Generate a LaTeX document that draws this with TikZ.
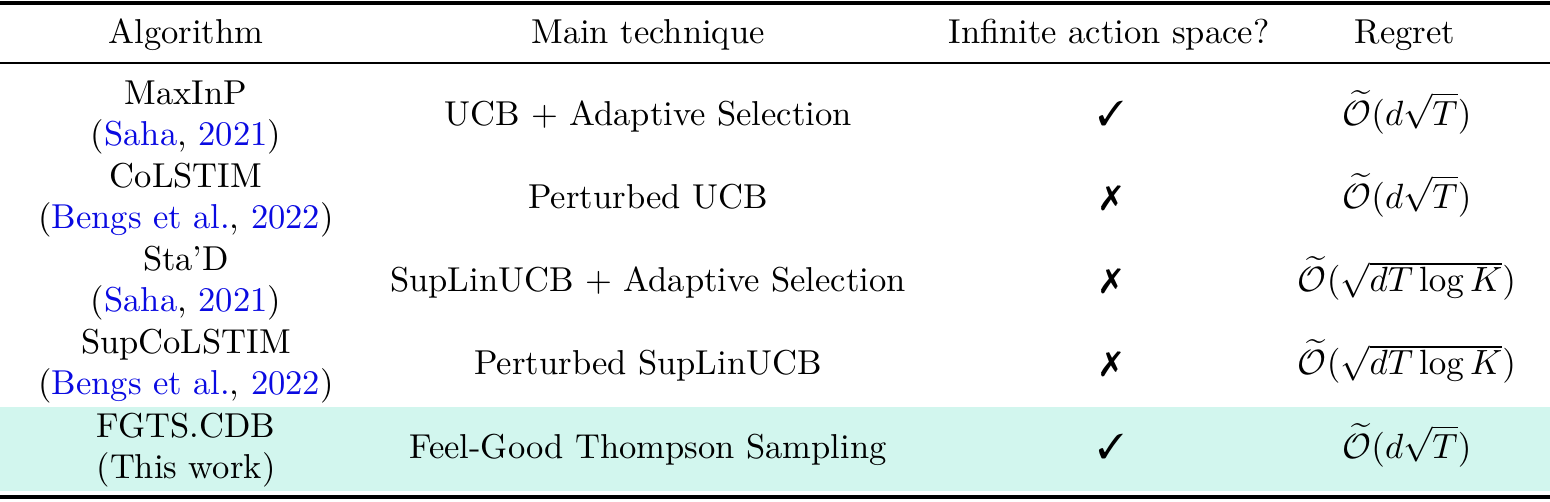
\documentclass[tikz,border=0pt]{standalone}
\usepackage{amsmath,amssymb,pifont}
\definecolor{cite}{RGB}{10,10,225}
\definecolor{hl}{RGB}{210,246,238}
\begin{document}
\begin{tikzpicture}[x=0.3125pt,y=-0.3125pt,
  t/.style={anchor=base,inner sep=0pt,font=\fontsize{10.8}{13}\selectfont}]
\useasboundingbox (0,0) rectangle (1550,502);
\fill[hl] (0,407) rectangle (1550,491);
\draw[line width=1.1pt] (0,3) -- (1550,3);
\draw[line width=0.6pt] (0,63) -- (1550,63);
\draw[line width=1.1pt] (0,497) -- (1550,497);
% header
\node[t] (h1) at (186,43) {Algorithm};
\node[t] (h2) at (648,43) {Main technique};
\node[t] (h3) at (1109,43) {Infinite action space?};
\node[t] (h4) at (1405,43) {Regret};
\newcommand{\ct}[1]{\textcolor{cite}{#1}}
\newcommand{\rA}{$\widetilde{\mathcal{O}}(d\sqrt{T})$}
\newcommand{\rB}{$\widetilde{\mathcal{O}}(\sqrt{dT\log K})$}
% rows
\foreach \b/\na/\nb/\tech/\inf/\reg [count=\i] in {
  104/MaxInP/{(\ct{Saha}, \ct{2021})}/{UCB + Adaptive Selection}/\ding{51}/\rA,
  187/CoLSTIM/{(\ct{Bengs et al.}, \ct{2022})}/{Perturbed UCB}/\ding{55}/\rA,
  270/Sta'D/{(\ct{Saha}, \ct{2021})}/{SupLinUCB + Adaptive Selection}/\ding{55}/\rB,
  353/SupCoLSTIM/{(\ct{Bengs et al.}, \ct{2022})}/{Perturbed SupLinUCB}/\ding{55}/\rB,
  437/FGTS.CDB/{(This work)}/{Feel-Good Thompson Sampling}/\ding{51}/\rA}{
  \node[t] (a\i) at (186,\b) {\na};
  \node[t] (c\i) at (186,\b+41) {\nb};
  \node[t] (m\i) at (648,\b+21) {\tech};
  \node[t] (i\i) at (1111,\b+21) {\inf};
  \node[t] (r\i) at (1407,\b+21) {\reg};
}
\end{tikzpicture}
\end{document}
